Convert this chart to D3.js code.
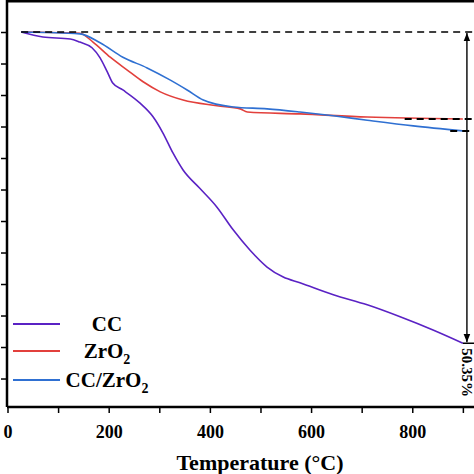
<!DOCTYPE html><html><head><meta charset="utf-8"><script src="https://cdn.jsdelivr.net/npm/d3@7"></script>
<style>body{margin:0;background:#fff}</style></head><body><svg id="c" width="474" height="474"></svg><script>
const FF="'Liberation Serif','Times New Roman','DejaVu Serif',serif";
const seriesNames=[["CC",""],["ZrO","2"],["CC/ZrO","2"]];
const ccT=[27,70,124,143,167,183,197,208,228,262,288,307,327,347,380,414,446,479,513,545,578,644,711,776,841,900];
const ccW=[100,99.2,98.9,98.4,97.5,95.9,93.7,91.9,90.8,88.7,86.5,84.0,80.8,78.1,75.2,72.2,68.6,65.4,62.7,61.1,60.2,58.3,56.7,54.8,52.7,50.6];
const zrT=[27,143,169,203,236,268,302,347,414,460,474,578,711,900];
const zrW=[100,99.8,98.4,96.0,94.0,92.1,90.5,89.2,88.3,87.8,87.3,87.0,86.5,86.2];
const czT=[27,143,183,228,276,321,355,387,446,513,578,644,711,802,900];
const czW=[100,99.7,98.3,96.0,94.3,92.4,90.8,89.2,88.1,87.8,87.3,86.7,86.0,85.1,84.3];
const xTicks=[0,200,400,600,800];
const colors=["#5a22c4","#e2403c","#2f70d2"];
const svg=d3.select("#c");
const x=d3.scaleLinear().domain([0,922]).range([7.5,474]);
const y=d3.scaleLinear().domain([105.08,40.48]).range([0,407]);
svg.append("line").attr("x1",7).attr("x2",474).attr("y1",1).attr("y2",1).attr("stroke","#000").attr("stroke-width",3);
svg.append("g").attr("transform","translate(0,407)").call(d3.axisBottom(x).tickValues(d3.range(0,901,100)).tickSize(6).tickFormat(d=>xTicks.includes(d)?d:""))
 .call(g=>{g.select(".domain").attr("stroke-width",2.5).attr("d","M7,0H474");g.selectAll("line").attr("stroke-width",1.5);g.selectAll("text").attr("dy","1.2em").attr("font-size",18).attr("font-family",FF).attr("font-weight","bold")});
svg.append("g").attr("transform","translate(7,0)").call(d3.axisLeft(y).tickValues(d3.range(45,101,5)).tickSize(6).tickFormat(""))
 .call(g=>{g.select(".domain").attr("stroke-width",2.5).attr("d","M0,0V407");g.selectAll("line").attr("stroke-width",1.5)});
svg.append("text").attr("x",260).attr("y",470).attr("text-anchor","middle").attr("font-size",22).attr("font-family",FF).attr("font-weight","bold").text("Temperature (\u00B0C)");
const line=d3.line().x(d=>x(d[0])).y(d=>y(d[1])).curve(d3.curveMonotoneX);
const data=[d3.zip(ccT,ccW),d3.zip(zrT,zrW),d3.zip(czT,czW)];
data.forEach((d,i)=>svg.append("path").attr("d",line(d)).attr("fill","none").attr("stroke",colors[i]).attr("stroke-width",1.6));
svg.append("line").attr("x1",x(27)).attr("x2",474).attr("y1",y(100)).attr("y2",y(100)).attr("stroke","#000").attr("stroke-width",1.6).attr("stroke-dasharray","7,5");
svg.append("line").attr("x1",x(785)).attr("x2",474).attr("y1",y(86.2)).attr("y2",y(86.2)).attr("stroke","#000").attr("stroke-width",2).attr("stroke-dasharray","7,5");
svg.append("line").attr("x1",x(875)).attr("x2",474).attr("y1",y(84.3)).attr("y2",y(84.3)).attr("stroke","#000").attr("stroke-width",2).attr("stroke-dasharray","7,5");
svg.append("line").attr("x1",x(900)).attr("x2",474).attr("y1",y(50.6)).attr("y2",y(50.6)).attr("stroke","#000").attr("stroke-width",1.5);
const ax=x(908);
svg.append("defs").append("marker").attr("id","ah").attr("viewBox","0 0 10 10").attr("refX",10).attr("refY",5).attr("markerWidth",6).attr("markerHeight",8).attr("orient","auto-start-reverse").append("path").attr("d","M0,1L10,5L0,9z");
svg.append("line").attr("x1",ax).attr("x2",ax).attr("y1",y(100)+1).attr("y2",y(50.6)-1).attr("stroke","#000").attr("stroke-width",1.4).attr("marker-end","url(#ah)").attr("marker-start","url(#ah)");
svg.append("text").attr("transform",`translate(${ax-5},${y(50.6)+5}) rotate(90)`).attr("font-size",15).attr("font-family",FF).attr("font-weight","bold").text("50.35%");
const ly=[324,351,380];
seriesNames.forEach((n,i)=>{
 svg.append("line").attr("x1",13).attr("x2",60).attr("y1",ly[i]).attr("y2",ly[i]).attr("stroke",colors[i]).attr("stroke-width",1.8);
 const t=svg.append("text").attr("x",107).attr("y",ly[i]+7).attr("text-anchor","middle").attr("font-size",21).attr("font-family",FF).attr("font-weight","bold");
 t.append("tspan").text(n[0]);
 if(n[1]) t.append("tspan").attr("font-size",14).attr("dy",6).text(n[1]);
});
</script></body></html>
